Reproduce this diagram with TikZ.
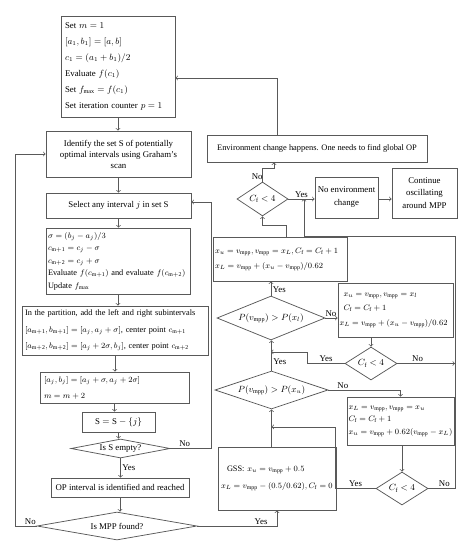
\documentclass[tikz,border=0pt]{standalone}
\usepackage{amsmath}
\usepackage{amssymb}
\usepackage{fontspec}
\setmainfont{Liberation Serif}
\usepackage{tikz}
\usetikzlibrary{shapes.geometric}
\newcommand{\mpp}{\mathrm{mpp}}
\newcommand{\Cf}{C_{\mathrm{f}}}
\newcommand{\sub}[1]{\mathrm{#1}}

\begin{document}
\begin{tikzpicture}[
			     x=1pt, y=-1pt,
			     font=\fontsize{8.8}{10}\selectfont,
			     box/.style={draw=black!65, line width=0.75pt, inner sep=3pt, align=left},
			     cbox/.style={draw=black!65, line width=0.75pt, inner sep=2pt, align=center},
			     decide/.style={draw=black!65, line width=0.75pt, diamond, inner sep=0pt, align=center},
			     link/.style={draw=black!65, line width=0.75pt},
			     lbl/.style={inner sep=1.5pt}
			     ]
\useasboundingbox (0,0) rectangle (474,557);
% left column
\node[box, minimum width=114pt, minimum height=101pt, text width=106pt, font=\fontsize{8.8}{16}\selectfont] (init) at (118,66.5) {%
Set $m = 1$\\
$[a_1, b_1] = [a, b]$\\
$c_1 = (a_1 + b_1)/2$\\
Evaluate $f(c_1)$\\
Set $f_{\max} = f(c_1)$\\
Set iteration counter $p = 1$};
\node[cbox, minimum width=145pt, minimum height=46pt, font=\fontsize{8.8}{11}\selectfont] (ident) at (118.5,154) {Identify the set S of potentially\\ optimal intervals using Graham’s\\ scan};
\node[cbox, minimum width=145pt, minimum height=25pt] (select) at (118.5,205.5) {Select any interval $j$ in set S};
\node[box, inner sep=2pt, minimum width=144pt, minimum height=66pt, text width=140pt, font=\fontsize{8.3}{12.5}\selectfont] (sigma) at (118,261) {%
$\sigma = (b_j - a_j)/3$\\
$c_{\sub{m+1}} = c_j - \sigma$\\
$c_{\sub{m+2}} = c_j + \sigma$\\
Evaluate $f(c_{\sub{m+1}})$ and evaluate $f(c_{\sub{m+2}})$\\
Update $f_{\max}$};
\node[box, minimum width=186pt, minimum height=49pt, text width=180pt, font=\fontsize{8.3}{16.5}\selectfont] (part) at (115,330.5) {%
In the partition, add the left and right subintervals\\
$[a_{\sub{m+1}}, b_{\sub{m+1}}] = [a_j, a_j + \sigma]$, center point $c_{\sub{m+1}}$\\
$[a_{\sub{m+2}}, b_{\sub{m+2}}] = [a_j + 2\sigma, b_j]$, center point $c_{\sub{m+2}}$};
\node[box, minimum width=149pt, minimum height=31pt, text width=141pt, font=\fontsize{8.3}{16}\selectfont] (upd) at (114.5,387.5) {%
$[a_j, b_j] = [a_j + \sigma, a_j + 2\sigma]$\\
$m = m + 2$};
\node[cbox, minimum width=73pt, minimum height=20pt] (remove) at (118.5,422) {$\mathrm{S} = \mathrm{S} - \{j\}$};
\node[decide, minimum width=99pt, minimum height=19pt, aspect=5.2] (empty) at (120.5,448.5) {Is S empty?};
\node[cbox, minimum width=138pt, minimum height=19pt] (reach) at (120,487.5) {OP interval is identified and reached};
\node[decide, minimum width=160pt, minimum height=28pt, aspect=5.7] (found) at (117,526) {Is MPP found?};
% right column
\node[cbox, minimum width=220pt, minimum height=27pt, font=\fontsize{8.4}{10}\selectfont] (envc) at (317,148.5) {Environment change happens. One needs to find global OP};
\node[decide, minimum width=51pt, minimum height=34pt, aspect=1.5] (cfa) at (262.5,199) {$\Cf < 4$};
\node[cbox, minimum width=63pt, minimum height=41pt, font=\fontsize{8.8}{13}\selectfont] (noenv) at (346.5,197.5) {No environment\\ change};
\node[cbox, minimum width=65pt, minimum height=50pt, font=\fontsize{8.8}{12.5}\selectfont] (cont) at (424.5,193) {Continue\\ oscillating\\ around MPP};
\node[box, inner sep=2pt, minimum width=134pt, minimum height=44pt, text width=130pt, font=\fontsize{8.3}{15}\selectfont] (shiftl) at (280,259) {%
$x_u = v_{\mpp}, v_{\mpp} = x_L, \Cf = \Cf + 1$\\
$x_L = v_{\mpp} + (x_u - v_{\mpp})/0.62$};
\node[decide, minimum width=108pt, minimum height=44pt, aspect=2.45] (pxl) at (271,318) {$P(v_{\mpp}) > P(x_l)$};
\node[box, inner sep=1.5pt, minimum width=115pt, minimum height=54pt, text width=112pt, font=\fontsize{8.3}{14.5}\selectfont] (shiftu) at (395.5,310) {%
\hspace*{4pt}$x_u = v_{\mpp}, v_{\mpp} = x_l$\\
\hspace*{4pt}$\Cf = \Cf + 1$\\
$x_L = v_{\mpp} + (x_u - v_{\mpp})/0.62$};
\node[decide, minimum width=52pt, minimum height=33pt, aspect=1.5] (cfb) at (371,363.5) {$\Cf < 4$};
\node[decide, minimum width=113pt, minimum height=38pt, aspect=3] (pxu) at (271.5,390) {$P(v_{\mpp}) > P(x_u)$};
\node[box, inner sep=1.5pt, minimum width=107pt, minimum height=48pt, text width=104pt, font=\fontsize{8.3}{12.5}\selectfont] (shiftx) at (400.5,421) {%
$x_L = v_{\mpp}, v_{\mpp} = x_u$\\
$\Cf = \Cf + 1$\\
$x_u = v_{\mpp} + 0.62(v_{\mpp} - x_L)$};
\node[decide, minimum width=52pt, minimum height=33pt, aspect=1.5] (cfc) at (402,488.5) {$\Cf < 4$};
\node[box, minimum width=118pt, minimum height=63pt, text width=112pt, font=\fontsize{8.3}{17}\selectfont] (gss) at (277,478.5) {%
\hspace*{6pt}GSS: $x_u = v_{\mpp} + 0.5$\\
$x_L = v_{\mpp} - (0.5/0.62), \Cf = 0$};
% left column connectors
\path[link] (init) edge[->] (init |- ident.north);
\path[link] (ident.south) edge[->] (ident.south |- select.north);
\path[link] (select.south) edge[->] (select.south |- sigma.north);
\path[link] (sigma.south) edge[->] (sigma.south |- part.north);
\path[link] (part.south) edge[->] (part.south |- upd.north);
\path[link] (upd.south) edge[->] (upd.south |- remove.north);
\path[link] (remove.south) edge[->] (remove.south |- empty.north);
\path[link] (empty.south) edge[->] node[lbl, right] {Yes} (empty.south |- reach.north);
\path[link] (reach.south) edge[->] (reach.south |- found.north);
\draw[link, ->] (empty.east) -- node[lbl, above, pos=0.35] {No} ++(41,0) |- ([yshift=3.5pt]select.east);
\draw[link, ->] (found.west) -- node[lbl, above, pos=0.3] {No} ++(-21,0) |- (ident.west);
\draw[link, ->] (found.east) -| node[lbl, above, pos=0.4] {Yes} (gss.south);
% right column connectors
\draw[link, ->] ([xshift=-40pt]envc.north) |- ([yshift=-11.5pt]init.east);
\draw[link, ->] (cfa.north) node[lbl, above left, xshift=2pt] {No} -- ++(0,-13) -| ([xshift=-43pt]envc.south);
\path[link] (cfa.east) edge[->] node[lbl, above] {Yes} (cfa.east -| noenv.west);
\path[link] (cfa.east -| noenv.east) edge[->] (cfa.east -| cont.west);
\draw[link, ->] ([xshift=6pt]shiftl.north) -- ++(0,-11) -| (cfa.south);
\path[link] (pxl.north) edge[->] node[lbl, right, pos=0.4] {Yes} (pxl.north |- shiftl.south);
\path[link] (pxl.east) edge[->] node[lbl, above, pos=0.45] {No} (pxl.east -| shiftu.west);
\path[link] (cfb.north |- shiftu.south) edge[->] (cfb.north);
\draw[link, ->] (cfb.west) -- node[lbl, above] {Yes} ++(-37,0) |- ([yshift=-11.5pt]pxl.south);
\coordinate (rail) at (455,236);
\draw[link, ->] (cfb.east) -- node[lbl, above, pos=0.35] {No} (cfb.east -| rail);
\path[link] (pxu.north) edge[->] node[lbl, right, pos=0.3] {Yes} (pxu.north |- pxl.south);
\draw[link, ->] (pxu.east) -- node[lbl, above, pos=0.2] {No} (pxu.east -| shiftx.north) -- (shiftx.north);
\path[link] (cfc.north |- shiftx.south) edge[->] (cfc.north);
\draw[link, ->] (cfc.west) -- node[lbl, above] {Yes} ++(-40,0) |- ([yshift=-17.5pt]pxu.south);
\draw[link, ->] (cfc.east) -- node[lbl, above, pos=0.6] {No} (cfc.east -| rail) -- (rail) -| (304,199);
\path[link] (pxu.south |- gss.north) edge[->] (pxu.south);
\end{tikzpicture}
\end{document}
